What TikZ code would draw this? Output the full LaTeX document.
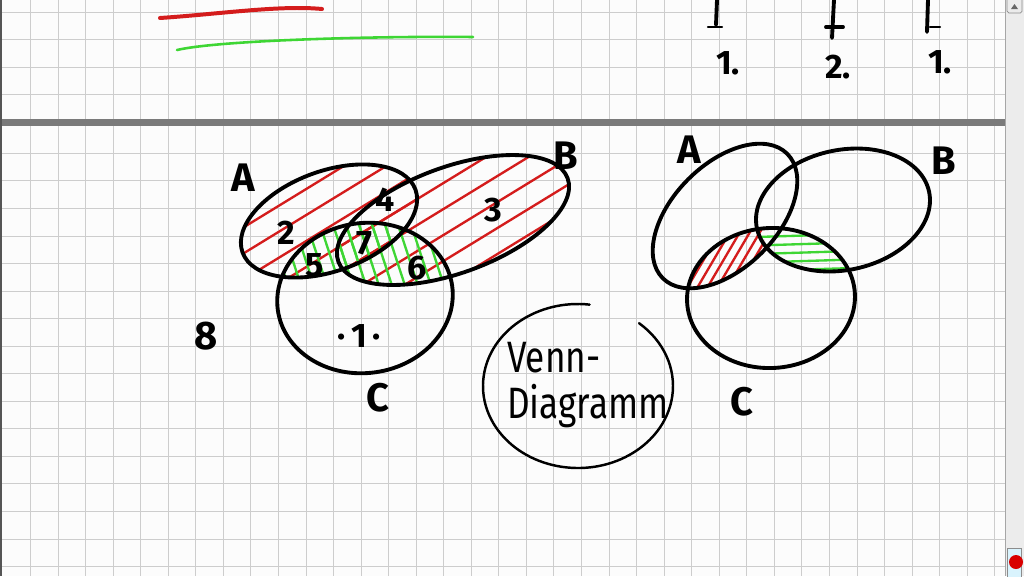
\documentclass[tikz,border=0pt]{standalone}
\usepackage{fontspec}
\setmainfont{Fira Sans}
\definecolor{bg}{RGB}{252,252,252}
\definecolor{gridc}{RGB}{205,205,205}
\definecolor{barc}{RGB}{122,122,122}
\definecolor{sbarc}{RGB}{236,236,236}
\definecolor{hred}{RGB}{212,28,28}
\definecolor{hgreen}{RGB}{62,214,52}
\begin{document}
\begin{tikzpicture}[x=0.03cm,y=-0.03cm,
  ink/.style={line width=3.3pt,line cap=round,line join=round,black},
  pen/.style={line width=2.1pt,line cap=round,line join=round,black},
  redh/.style={line width=2pt,hred,line cap=round},
  greenh/.style={line width=2pt,hgreen,line cap=round},
  gridl/.style={line width=0.8pt,gridc},
  lbl/.style={inner sep=0pt,font=\fontsize{34}{34}\selectfont\bfseries},
  num/.style={inner sep=0pt,font=\fontsize{29}{29}\selectfont\bfseries},
  vtxt/.style={inner sep=0pt,font=\fontsize{30}{30}\selectfont},
  eLA/.style={shift={(329,221)},rotate=20},
  eLB/.style={shift={(453,220)},rotate=20},
  eLC/.style={shift={(365,298)},rotate=8},
  eRA/.style={shift={(725,216)},rotate=45},
  eRB/.style={shift={(843,210)},rotate=12},
  eRC/.style={shift={(771,298)},rotate=3}]
\useasboundingbox (0,0) rectangle (1024,576);
\fill[bg] (0,0) rectangle (1024,576);
% grid
\foreach \k in {0,...,35} \draw[gridl] ({30.5+27.55*\k},0) -- ({30.5+27.55*\k},576);
\foreach \k in {0,...,3} \draw[gridl] (0,{12.3+27.35*\k}) -- (1005,{12.3+27.35*\k});
\foreach \k in {0,...,16} \draw[gridl] (0,{125.8+27.55*\k}) -- (1005,{125.8+27.55*\k});
% separator bar, borders, scrollbar
\fill[barc] (0,119) rectangle (1005,125.5);
\fill[barc!70!black] (0,0) rectangle (2,576);
\fill[sbarc] (1005,0) rectangle (1024,576);
\draw[line width=0.6pt,black!35] (1005,0) -- (1005,576);
\draw[line width=0.6pt,black!45,fill=black!8,rounded corners=1.5pt] (1007,-2) rectangle (1022,13);
\fill[black!60] (1011,9) -- (1018,9) -- (1014.5,4) -- cycle;
\draw[line width=0.6pt,black!45,fill=cyan!15] (1007,548) rectangle (1021,578);
\fill[red!85!black] (1016,562) circle (7);
% top strokes
\draw[hred,line width=3.4pt,line cap=round] (160,18) .. controls (220,14) and (280,5) .. (322,9);
\draw[hgreen,line width=2.2pt,line cap=round] (177,50) .. controls (220,40) and (380,36) .. (473,37);
\draw[ink] (717,0) -- (716,25);
\draw[pen] (708,27) -- (722,27);
\draw[ink] (834,0) -- (832,38);
\draw[ink] (826,27) -- (843,27);
\draw[ink] (928,0) -- (927,32);
\draw[pen] (930,27) -- (940,27);
\node[num] (t1) at (728,63) {1.};
\node[num] (t2) at (838,67) {2.};
\node[num] (t3) at (940,62) {1.};
% ---------- left Venn: hatching ----------
\begin{scope}
  \clip[eLA] (0,0) ellipse (92 and 50);
  \foreach \c in {150,176,...,520} \draw[redh] (200,\c) -- ++(420,-257);
\end{scope}
\begin{scope}
  \clip[eLB] (0,0) ellipse (122 and 53);
  \foreach \c in {150,176,...,520} \draw[redh] (200,\c) -- ++(420,-257);
\end{scope}
\begin{scope}
  \clip[eLC] (0,0) ellipse (88 and 75);
  \begin{scope}
    \clip[eLA] (0,0) ellipse (92 and 50);
    \foreach \c in {270,283,...,480} \draw[greenh] (\c,310) -- ++(-36,-110);
  \end{scope}
  \begin{scope}
    \clip[eLB] (0,0) ellipse (122 and 53);
    \foreach \c in {270,283,...,480} \draw[greenh] (\c,310) -- ++(-36,-110);
  \end{scope}
\end{scope}
% left Venn outlines
\draw[ink,eLA] (0,0) ellipse (92 and 50);
\draw[ink,eLB] (0,0) ellipse (122 and 53);
\draw[ink,eLC] (0,0) ellipse (88 and 75);
\node[lbl] (la) at (243,178) {A};
\node[lbl] (lb) at (566,156) {B};
\node[lbl] (lc) at (378,398) {C};
\node[lbl] (l8) at (206,336) {8};
\node[num] (n2) at (286,233) {2};
\node[num] (n4) at (385,200) {4};
\node[num] (n3) at (493,210) {3};
\node[num] (n7) at (364,243) {7};
\node[num] (n5) at (315,265) {5};
\node[num] (n6) at (417,268) {6};
\node[num] (n1) at (359,336) {·\,1\,·};
% ---------- right Venn: hatching ----------
\begin{scope}
  \clip (600,150) rectangle (764,320);
  \clip[eRA] (0,0) ellipse (88 and 52);
  \clip[eRC] (0,0) ellipse (84 and 70);
  \foreach \c in {660,670,...,800} \draw[redh] (\c,300) -- ++(50,-85);
\end{scope}
\begin{scope}
  \clip[eRB] (0,0) ellipse (88 and 60);
  \clip[eRC] (0,0) ellipse (84 and 70);
  \foreach \c in {229,237.5,...,280} \draw[greenh] (740,\c) -- ++(130,-4);
\end{scope}
\draw[ink,eRA] (0,0) ellipse (88 and 52);
\draw[ink,eRB] (0,0) ellipse (88 and 60);
\draw[ink,eRC] (0,0) ellipse (84 and 70);
\node[lbl] (ra) at (689,150) {A};
\node[lbl] (rb) at (944,161) {B};
\node[lbl] (rc) at (742,402) {C};
% ---------- Venn-Diagramm ----------
\coordinate (vc) at (578,386);
\draw[pen] ([shift={(-83:95 and 82)}]vc) arc[start angle=-83,end angle=-410,x radius=95,y radius=82];
\node[vtxt,anchor=base west] (v1) at (507,372) {\scalebox{1}[1.25]{Venn-}};
\node[vtxt,anchor=base west] (v2) at (507,418) {\scalebox{1}[1.25]{Diagramm}};
\end{tikzpicture}
\end{document}
